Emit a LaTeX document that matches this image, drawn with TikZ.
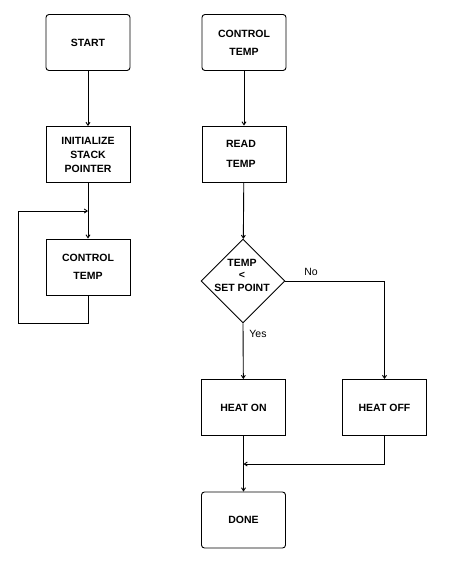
\documentclass[tikz,border=0pt]{standalone}
\usepackage{fontspec}
\setmainfont{Liberation Sans}
\usetikzlibrary{arrows.meta,shapes.geometric}
\begin{document}
\begin{tikzpicture}[x=1pt,y=-1pt,line width=0.9pt,
  box/.style={draw,rectangle,minimum width=84pt,minimum height=56pt,inner sep=0pt,align=center,font=\fontsize{10.5}{18}\selectfont\bfseries},
  term/.style={box,rounded corners=3pt},
  dec/.style={draw,diamond,aspect=1,minimum size=84pt,inner sep=0pt},
  lbl/.style={font=\fontsize{10.5}{12}\selectfont\bfseries,align=center,inner sep=0pt},
  yn/.style={font=\fontsize{10.5}{12}\selectfont,inner sep=0pt},
  arr/.style={-{Straight Barb[length=3pt,width=4pt]}}]
\useasboundingbox (0,0) rectangle (451,575);
% left column
\node[term] (start) at (88,42.5) {START};
\node[box,font=\fontsize{10.5}{14}\selectfont\bfseries] (init) at (88,154.5) {INITIALIZE\\STACK\\POINTER};
\node[box] (ct1) at (88,267) {CONTROL\\TEMP};
\coordinate (lb) at (18,323);
\coordinate (lt) at (18,211);
\coordinate (lj) at (88,211);
\draw[arr] (start) -- (init);
\draw[arr] (init) -- (ct1);
\draw[arr] (ct1.south) |- (lb) -- (lt) -- (lj);
% right column
\node[term] (ct2) at (244,42.5) {CONTROL\\TEMP};
\node[box,font=\fontsize{10.5}{20}\selectfont\bfseries] (read) at (244,154) {READ\hspace*{6pt}\\TEMP\hspace*{6pt}};
\node[dec] (dec) at (243,281) {};
\node[lbl,font=\fontsize{10.5}{12.5}\selectfont\bfseries] (dtext) at (242,275) {TEMP\\<\\SET POINT};
\node[box] (heaton) at (243.5,407.5) {HEAT ON};
\node[box] (heatoff) at (384.5,407.5) {HEAT OFF};
\node[term] (done) at (243.5,520) {DONE};
\node[yn] (no) at (311,272) {No};
\node[yn] (yes) at (258,334) {Yes};
\coordinate (mj) at (243.5,464);
\draw[arr] (ct2) -- (read);
\draw[arr] (read) -- (dec);
\draw[arr] (dec.east) -| (heatoff);
\draw[arr] (dec.south) -- (heaton);
\draw[arr] (heaton) -- (done);
\draw[arr] (heatoff.south) |- (mj);
\end{tikzpicture}
\end{document}
